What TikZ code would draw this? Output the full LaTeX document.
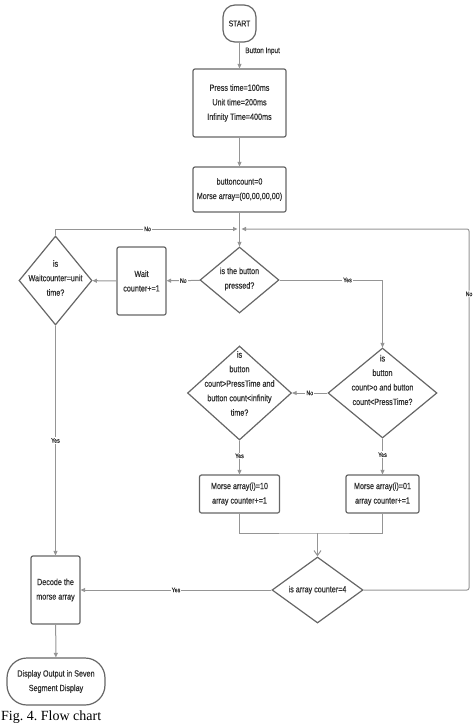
\documentclass[tikz,border=0pt]{standalone}
\usepackage{fontspec}
\setmainfont{Liberation Sans}[FakeStretch=0.8, FakeBold=0.6]
\newfontfamily\capfont{Liberation Serif}
\usepackage{tikz}
\usetikzlibrary{arrows.meta}
\usetikzlibrary{shapes.geometric}
\definecolor{boxgray}{HTML}{666666}
\definecolor{linegray}{HTML}{959595}
\definecolor{txtgray}{HTML}{303030}
\tikzset{
    base/.style={
        draw=boxgray,
        line width=1.2pt,
        text=txtgray,
        align=center,
        inner sep=0pt
    },
    process/.style={base, rounded corners=2pt},
    terminal/.style={base, rounded corners=#1},
    decision/.style={base, diamond},
    dtext/.style={align=center, text=txtgray, inner sep=0pt},
    link/.style={draw=linegray, line width=1pt},
    flow/.style={link, -{Triangle[length=4.5pt,width=4pt]}},
    lbl/.style={
        fill=white,
        inner sep=1pt,
        text=txtgray,
        font=\fontsize{6.5}{7}\selectfont
    }
}
\begin{document}
\begin{tikzpicture}[x=1pt, y=-1pt, font=\fontsize{9}{14.5}\selectfont]
            \useasboundingbox (0,0) rectangle (474,725);
            % main column
            \node[terminal=12pt, minimum width=33pt, minimum height=37pt,
                  font=\fontsize{8.5}{10}\selectfont] (start) at (239.5,23.5) {START};
            \node[process, minimum width=93pt, minimum height=68pt] (setup) at (239.5,103)
              {Press time=100ms\\Unit time=200ms\\Infinity Time=400ms};
            \node[process, minimum width=93pt, minimum height=45pt] (init) at (239.5,189.5)
              {buttoncount=0\\Morse array=(00,00,00,00)};
            \coordinate (join) at (239.5,229);
            \node[decision, minimum width=79pt, minimum height=66pt,
                  label={[dtext, yshift=1pt]center:is the button\\pressed?}] (press) at (239.5,280) {};
            % waiting branch
            \node[process, minimum width=49pt, minimum height=68pt] (wait) at (141.5,281)
              {Wait\\counter+=1};
            \node[decision, minimum width=73pt, minimum height=89pt,
                  label={[dtext, yshift=2.5pt]center:is\\Waitcounter=unit\\time?}] (waitQ) at (55.5,280.5) {};
            \node[process, minimum width=49pt, minimum height=68pt] (decode) at (55.5,590)
              {Decode the\\morse array};
            \node[terminal=20pt, minimum width=98pt, minimum height=47pt] (display) at (56,681.5)
              {Display Output in Seven\\Segment Display};
            % pressed branch
            \node[decision, minimum width=109pt, minimum height=90pt,
                  label={[dtext, yshift=13pt]center:is\\button\\count>o and button\\count<PressTime?}] (dotQ) at (382.5,393) {};
            \node[decision, minimum width=104pt, minimum height=94pt,
                  label={[dtext, yshift=9.5pt]center:is\\button\\count>PressTime and\\button count<infinity\\time?}] (dashQ) at (239.5,393) {};
            \node[process, minimum width=80pt, minimum height=38pt] (dash) at (239.5,494)
              {Morse array(i)=10\\array counter+=1};
            \node[process, minimum width=73pt, minimum height=38pt] (dot) at (382.5,494)
              {Morse array(i)=01\\array counter+=1};
            \coordinate (merge) at (317.5,533);
            \node[decision, minimum width=91pt, minimum height=66pt,
                  label={[dtext]center:is array counter=4}] (full) at (317.5,590) {};
            \coordinate (loop) at (469,229);

            \draw[flow] (start) -- (setup)
              node[pos=0.33, anchor=west, xshift=2pt, text=txtgray,
                   font=\fontsize{8}{9}\selectfont] {Button Input};
            \draw[flow] (setup) -- (init);
            \draw[link] (init) -- (join);
            \draw[flow] (join) -- (press);
            \draw[flow] (press) -- (wait) node[lbl, pos=0.5] {No};
            \draw[flow] (wait) -- (waitQ);
            \draw[flow, shorten >=2pt] (waitQ.north) |- (join) node[lbl, pos=0.75] {No};
            \draw[flow] (waitQ) -- (decode) node[lbl, pos=0.5] {Yes};
            \draw[flow] (decode) -- (display);
            \draw[flow] (press.east) -| (dotQ.north) node[lbl, pos=0.33] {Yes};
            \draw[flow] (dotQ) -- (dashQ) node[lbl, pos=0.5] {No};
            \draw[flow] (dotQ) -- (dot) node[lbl, pos=0.45] {Yes};
            \draw[flow] (dashQ) -- (dash) node[lbl, pos=0.45] {Yes};
            \draw[link] (dash.south) |- (merge) -| (dot.south);
            \draw[link, -{Straight Barb[length=5pt,width=7pt]}] (merge) -- (full);
            \draw[flow] (full) -- (decode) node[lbl, pos=0.5] {Yes};
            \draw[flow, rounded corners=2pt, shorten >=2pt] (full.east)
              -| node[lbl, pos=0.91] {No} (loop) -- (join);

            \node[anchor=base west, inner sep=0pt,
                  font=\capfont\fontsize{14}{16}\selectfont] (caption) at (1,720.5)
              {Fig.\ 4.\ Flow chart};
\end{tikzpicture}
\end{document}
